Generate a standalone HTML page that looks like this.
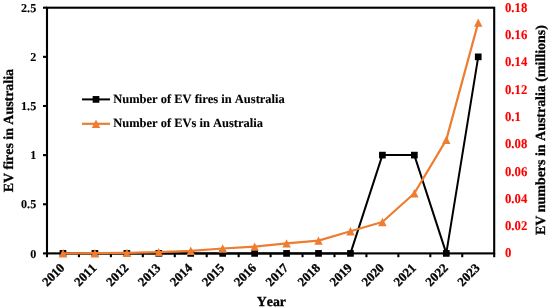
<!DOCTYPE html><html><head><meta charset="utf-8"><style>html,body{margin:0;padding:0;background:#fff}svg{display:block}text{font-family:"Liberation Serif","Times New Roman",serif;font-weight:bold;font-kerning:none;text-rendering:geometricPrecision;font-variant-ligatures:none;stroke-width:0.1;stroke-linejoin:round}.k{fill:#000;stroke:#000}.r{fill:#ff0000;stroke:#ff0000}.t{stroke-width:0.3px}</style></head><body>
<svg width="550" height="308" viewBox="0 0 550 308">
<rect width="550" height="308" fill="#fff"/>
<rect x="47.0" y="7.7" width="447.20" height="245.70" fill="none" stroke="#000" stroke-width="2.1"/>
<line x1="43.0" y1="253.40" x2="47.0" y2="253.40" stroke="#000" stroke-width="2.1"/>
<text class="k" x="36.2" y="257.50" font-size="12.1" text-anchor="end">0</text>
<line x1="43.0" y1="204.26" x2="47.0" y2="204.26" stroke="#000" stroke-width="2.1"/>
<text class="k" x="36.2" y="208.36" font-size="12.1" text-anchor="end">0.5</text>
<line x1="43.0" y1="155.12" x2="47.0" y2="155.12" stroke="#000" stroke-width="2.1"/>
<text class="k" x="36.2" y="159.22" font-size="12.1" text-anchor="end">1</text>
<line x1="43.0" y1="105.98" x2="47.0" y2="105.98" stroke="#000" stroke-width="2.1"/>
<text class="k" x="36.2" y="110.08" font-size="12.1" text-anchor="end">1.5</text>
<line x1="43.0" y1="56.84" x2="47.0" y2="56.84" stroke="#000" stroke-width="2.1"/>
<text class="k" x="36.2" y="60.94" font-size="12.1" text-anchor="end">2</text>
<line x1="43.0" y1="7.70" x2="47.0" y2="7.70" stroke="#000" stroke-width="2.1"/>
<text class="k" x="36.2" y="11.80" font-size="12.1" text-anchor="end">2.5</text>
<line x1="47.00" y1="253.4" x2="47.00" y2="257.2" stroke="#000" stroke-width="2.1"/>
<line x1="78.94" y1="253.4" x2="78.94" y2="257.2" stroke="#000" stroke-width="2.1"/>
<line x1="110.89" y1="253.4" x2="110.89" y2="257.2" stroke="#000" stroke-width="2.1"/>
<line x1="142.83" y1="253.4" x2="142.83" y2="257.2" stroke="#000" stroke-width="2.1"/>
<line x1="174.77" y1="253.4" x2="174.77" y2="257.2" stroke="#000" stroke-width="2.1"/>
<line x1="206.71" y1="253.4" x2="206.71" y2="257.2" stroke="#000" stroke-width="2.1"/>
<line x1="238.66" y1="253.4" x2="238.66" y2="257.2" stroke="#000" stroke-width="2.1"/>
<line x1="270.60" y1="253.4" x2="270.60" y2="257.2" stroke="#000" stroke-width="2.1"/>
<line x1="302.54" y1="253.4" x2="302.54" y2="257.2" stroke="#000" stroke-width="2.1"/>
<line x1="334.49" y1="253.4" x2="334.49" y2="257.2" stroke="#000" stroke-width="2.1"/>
<line x1="366.43" y1="253.4" x2="366.43" y2="257.2" stroke="#000" stroke-width="2.1"/>
<line x1="398.37" y1="253.4" x2="398.37" y2="257.2" stroke="#000" stroke-width="2.1"/>
<line x1="430.31" y1="253.4" x2="430.31" y2="257.2" stroke="#000" stroke-width="2.1"/>
<line x1="462.26" y1="253.4" x2="462.26" y2="257.2" stroke="#000" stroke-width="2.1"/>
<line x1="494.20" y1="253.4" x2="494.20" y2="257.2" stroke="#000" stroke-width="2.1"/>
<text class="r" x="505.0" y="257.45" font-size="13.4" textLength="6.37" lengthAdjust="spacingAndGlyphs">0</text>
<text class="r" x="505.0" y="230.15" font-size="13.4" textLength="22.28" lengthAdjust="spacingAndGlyphs">0.02</text>
<text class="r" x="505.0" y="202.85" font-size="13.4" textLength="22.28" lengthAdjust="spacingAndGlyphs">0.04</text>
<text class="r" x="505.0" y="175.55" font-size="13.4" textLength="22.28" lengthAdjust="spacingAndGlyphs">0.06</text>
<text class="r" x="505.0" y="148.25" font-size="13.4" textLength="22.28" lengthAdjust="spacingAndGlyphs">0.08</text>
<text class="r" x="505.0" y="120.95" font-size="13.4" textLength="15.91" lengthAdjust="spacingAndGlyphs">0.1</text>
<text class="r" x="505.0" y="93.65" font-size="13.4" textLength="22.28" lengthAdjust="spacingAndGlyphs">0.12</text>
<text class="r" x="505.0" y="66.35" font-size="13.4" textLength="22.28" lengthAdjust="spacingAndGlyphs">0.14</text>
<text class="r" x="505.0" y="39.05" font-size="13.4" textLength="22.28" lengthAdjust="spacingAndGlyphs">0.16</text>
<text class="r" x="505.0" y="11.75" font-size="13.4" textLength="22.28" lengthAdjust="spacingAndGlyphs">0.18</text>
<text class="k t" transform="translate(65.37,268.80) rotate(-45)" font-size="12.8" text-anchor="end">2010</text>
<text class="k t" transform="translate(97.31,268.80) rotate(-45)" font-size="12.8" text-anchor="end">2011</text>
<text class="k t" transform="translate(129.26,268.80) rotate(-45)" font-size="12.8" text-anchor="end">2012</text>
<text class="k t" transform="translate(161.20,268.80) rotate(-45)" font-size="12.8" text-anchor="end">2013</text>
<text class="k t" transform="translate(193.14,268.80) rotate(-45)" font-size="12.8" text-anchor="end">2014</text>
<text class="k t" transform="translate(225.09,268.80) rotate(-45)" font-size="12.8" text-anchor="end">2015</text>
<text class="k t" transform="translate(257.03,268.80) rotate(-45)" font-size="12.8" text-anchor="end">2016</text>
<text class="k t" transform="translate(288.97,268.80) rotate(-45)" font-size="12.8" text-anchor="end">2017</text>
<text class="k t" transform="translate(320.91,268.80) rotate(-45)" font-size="12.8" text-anchor="end">2018</text>
<text class="k t" transform="translate(352.86,268.80) rotate(-45)" font-size="12.8" text-anchor="end">2019</text>
<text class="k t" transform="translate(384.80,268.80) rotate(-45)" font-size="12.8" text-anchor="end">2020</text>
<text class="k t" transform="translate(416.74,268.80) rotate(-45)" font-size="12.8" text-anchor="end">2021</text>
<text class="k t" transform="translate(448.69,268.80) rotate(-45)" font-size="12.8" text-anchor="end">2022</text>
<text class="k t" transform="translate(480.63,268.80) rotate(-45)" font-size="12.8" text-anchor="end">2023</text>
<polyline points="62.97,253.40 94.91,253.40 126.86,253.40 158.80,253.40 190.74,253.40 222.69,253.40 254.63,253.40 286.57,253.40 318.51,253.40 350.46,253.40 382.40,155.12 414.34,155.12 446.29,253.40 478.23,56.84" fill="none" stroke="#000" stroke-width="2" stroke-linejoin="round"/>
<rect x="59.62" y="250.05" width="6.7" height="6.7" fill="#000"/>
<rect x="91.56" y="250.05" width="6.7" height="6.7" fill="#000"/>
<rect x="123.51" y="250.05" width="6.7" height="6.7" fill="#000"/>
<rect x="155.45" y="250.05" width="6.7" height="6.7" fill="#000"/>
<rect x="187.39" y="250.05" width="6.7" height="6.7" fill="#000"/>
<rect x="219.34" y="250.05" width="6.7" height="6.7" fill="#000"/>
<rect x="251.28" y="250.05" width="6.7" height="6.7" fill="#000"/>
<rect x="283.22" y="250.05" width="6.7" height="6.7" fill="#000"/>
<rect x="315.16" y="250.05" width="6.7" height="6.7" fill="#000"/>
<rect x="347.11" y="250.05" width="6.7" height="6.7" fill="#000"/>
<rect x="379.05" y="151.77" width="6.7" height="6.7" fill="#000"/>
<rect x="410.99" y="151.77" width="6.7" height="6.7" fill="#000"/>
<rect x="442.94" y="250.05" width="6.7" height="6.7" fill="#000"/>
<rect x="474.88" y="53.49" width="6.7" height="6.7" fill="#000"/>
<polyline points="62.97,253.30 94.91,253.20 126.86,252.90 158.80,252.10 190.74,250.80 222.69,248.50 254.63,246.65 286.57,243.40 318.51,240.60 350.46,231.30 382.40,222.00 414.34,193.30 446.29,139.90 478.23,22.60" fill="none" stroke="#ed7d31" stroke-width="2.2" stroke-linejoin="round"/>
<polygon points="62.97,249.10 58.77,257.50 67.17,257.50" fill="#ed7d31"/>
<polygon points="94.91,249.00 90.71,257.40 99.11,257.40" fill="#ed7d31"/>
<polygon points="126.86,248.70 122.66,257.10 131.06,257.10" fill="#ed7d31"/>
<polygon points="158.80,247.90 154.60,256.30 163.00,256.30" fill="#ed7d31"/>
<polygon points="190.74,246.60 186.54,255.00 194.94,255.00" fill="#ed7d31"/>
<polygon points="222.69,244.30 218.49,252.70 226.89,252.70" fill="#ed7d31"/>
<polygon points="254.63,242.45 250.43,250.85 258.83,250.85" fill="#ed7d31"/>
<polygon points="286.57,239.20 282.37,247.60 290.77,247.60" fill="#ed7d31"/>
<polygon points="318.51,236.40 314.31,244.80 322.71,244.80" fill="#ed7d31"/>
<polygon points="350.46,227.10 346.26,235.50 354.66,235.50" fill="#ed7d31"/>
<polygon points="382.40,217.80 378.20,226.20 386.60,226.20" fill="#ed7d31"/>
<polygon points="414.34,189.10 410.14,197.50 418.54,197.50" fill="#ed7d31"/>
<polygon points="446.29,135.70 442.09,144.10 450.49,144.10" fill="#ed7d31"/>
<polygon points="478.23,18.40 474.03,26.80 482.43,26.80" fill="#ed7d31"/>
<line x1="82" y1="99.4" x2="110" y2="99.4" stroke="#000" stroke-width="2"/><rect x="92.65" y="96.05000000000001" width="6.7" height="6.7" fill="#000"/>
<text class="k" x="113.3" y="103.0" font-size="12.47">Number of EV fires in Australia</text>
<line x1="82" y1="123.8" x2="110" y2="123.8" stroke="#ed7d31" stroke-width="2.2"/><polygon points="96.00,119.60 91.80,128.00 100.20,128.00" fill="#ed7d31"/>
<text class="k" x="113.3" y="127.3" font-size="12.47">Number of EVs in Australia</text>
<text class="k t" transform="translate(13.2,130.6) rotate(-90)" font-size="13.9" text-anchor="middle">EV fires in Australia</text>
<text class="k t" transform="translate(544.7,130.1) rotate(-90)" font-size="13.95" text-anchor="middle">EV numbers in Australia (millions)</text>
<text class="k t" x="271.4" y="305.5" font-size="13.8" text-anchor="middle">Year</text>
</svg></body></html>
